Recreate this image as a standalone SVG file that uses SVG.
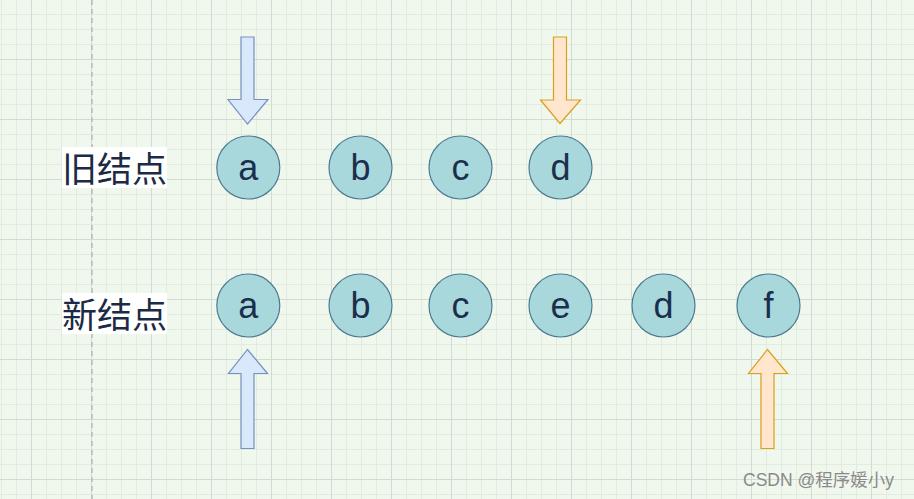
<svg xmlns="http://www.w3.org/2000/svg" width="914" height="499" viewBox="0 0 914 499">
  <defs>
    <pattern id="grid" patternUnits="userSpaceOnUse" x="31" y="59" width="60" height="60">
      <rect x="15" y="0" width="1" height="60" fill="#e1ebdf"/>
      <rect x="30" y="0" width="1" height="60" fill="#e1ebdf"/>
      <rect x="45" y="0" width="1" height="60" fill="#e1ebdf"/>
      <rect x="0" y="15" width="60" height="1" fill="#e1ebdf"/>
      <rect x="0" y="30" width="60" height="1" fill="#e1ebdf"/>
      <rect x="0" y="45" width="60" height="1" fill="#e1ebdf"/>
      <rect x="0" y="0" width="1" height="60" fill="#d2dbd1"/>
      <rect x="0" y="0" width="60" height="1" fill="#d2dbd1"/>
    </pattern>
  </defs>
  <style>
    .node circle { fill: #a8d8dc; stroke: #4d7a90; stroke-width: 1.2; }
    .node text { font-family: "Liberation Sans", Arial, sans-serif; font-size: 36px; fill: #1b2f4d; text-anchor: middle; }
    .blue { fill: #dae8fc; stroke: #7591c2; stroke-width: 1.2; }
    .orange { fill: #ffe6cc; stroke: #d9a020; stroke-width: 1.2; }
    .label rect { fill: #ffffff; }
    .label text { font-family: "Noto Sans CJK SC", sans-serif; font-size: 35px; fill: #1b2a45; }
    .wm { font-family: "Liberation Sans", "Noto Sans CJK SC", sans-serif; font-size: 17.5px; fill: #8a8a8a; }
  </style>
  <rect x="0" y="0" width="914" height="499" fill="#f0f8ee"/>
  <rect x="0" y="0" width="914" height="499" fill="url(#grid)"/>
  <line x1="92" y1="0" x2="92" y2="499" stroke="#b8bcb8" stroke-width="1.5" stroke-dasharray="5,4"/>

  <g id="label-old" class="label">
    <rect x="62" y="147" width="105" height="41"/>
    <text x="62" y="182">旧结点</text>
  </g>
  <g id="label-new" class="label">
    <rect x="62" y="293" width="105" height="41"/>
    <text x="62" y="328">新结点</text>
  </g>

  <g id="old-a" class="node"><circle cx="248.3" cy="167.5" r="31.5"/><text x="248.3" y="180">a</text></g>
  <g id="old-b" class="node"><circle cx="360.5" cy="167.5" r="31.5"/><text x="360.5" y="180">b</text></g>
  <g id="old-c" class="node"><circle cx="460.5" cy="167.5" r="31.5"/><text x="460.5" y="180">c</text></g>
  <g id="old-d" class="node"><circle cx="560.5" cy="167.5" r="31.5"/><text x="560.5" y="180">d</text></g>

  <g id="new-a" class="node"><circle cx="248.3" cy="305.5" r="31.5"/><text x="248.3" y="317.5">a</text></g>
  <g id="new-b" class="node"><circle cx="360.5" cy="305.5" r="31.5"/><text x="360.5" y="317.5">b</text></g>
  <g id="new-c" class="node"><circle cx="460.5" cy="305.5" r="31.5"/><text x="460.5" y="317.5">c</text></g>
  <g id="new-e" class="node"><circle cx="560.5" cy="305.5" r="31.5"/><text x="560.5" y="317.5">e</text></g>
  <g id="new-d" class="node"><circle cx="663.5" cy="305.5" r="31.5"/><text x="663.5" y="317.5">d</text></g>
  <g id="new-f" class="node"><circle cx="768.5" cy="305.5" r="31.5"/><text x="768.5" y="317.5">f</text></g>

  <g id="arrow-old-start">
    <polygon class="blue" points="241,37 254,37 254,99.5 268,99.5 247.5,124 228,99.5 241,99.5"/>
  </g>
  <g id="arrow-old-end">
    <polygon class="orange" points="553.5,37 566.5,37 566.5,100 580.5,100 560,123.5 540.5,100 553.5,100"/>
  </g>
  <g id="arrow-new-start">
    <polygon class="blue" points="241,448.5 254,448.5 254,373.5 267.5,373.5 247.5,349.5 228.5,373.5 241,373.5"/>
  </g>
  <g id="arrow-new-end">
    <polygon class="orange" points="761,448.5 774,448.5 774,373.5 787.5,373.5 767.5,349.5 748.5,373.5 761,373.5"/>
  </g>

  <text class="wm" x="743" y="486">CSDN @程序媛小y</text>
</svg>
